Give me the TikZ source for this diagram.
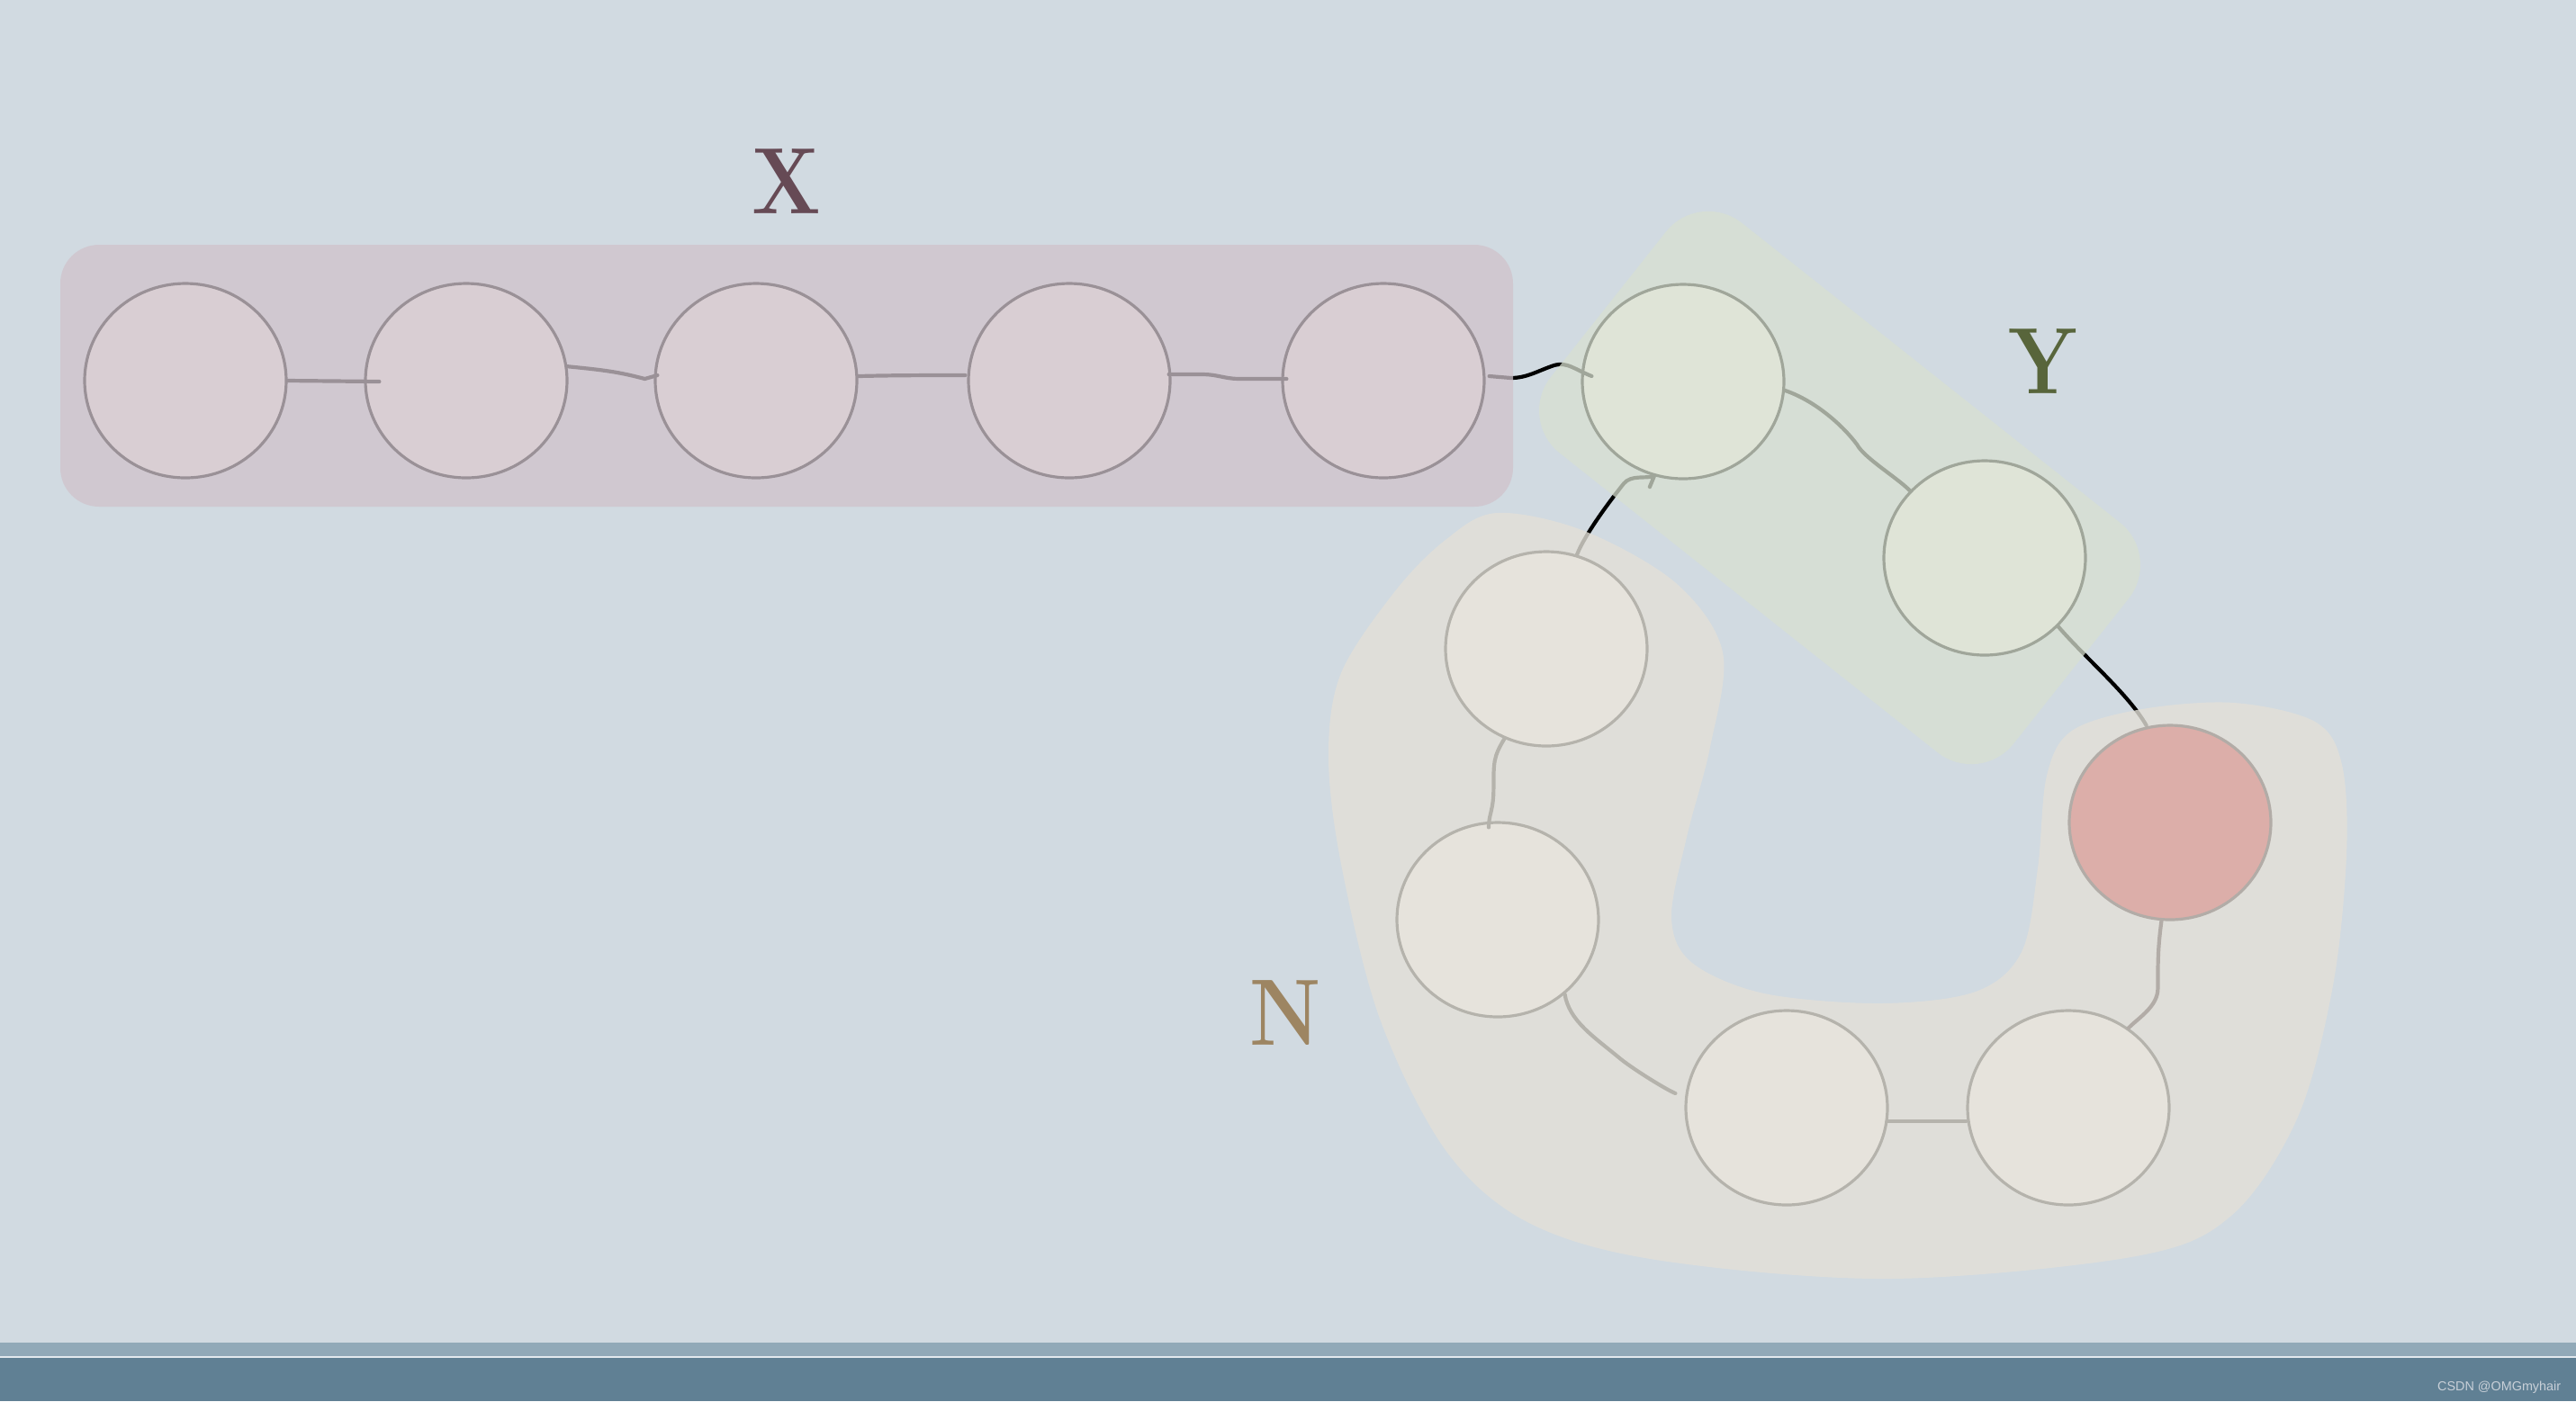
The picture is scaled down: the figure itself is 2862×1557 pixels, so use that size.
\documentclass[tikz,border=0pt]{standalone}
\usepackage{fontspec}
\newfontfamily\wmfont{Liberation Sans}
\usetikzlibrary{shapes.geometric,calc}
\definecolor{bgcol}{RGB}{209,218,225}
\definecolor{bandlight}{RGB}{145,169,184}
\definecolor{banddark}{RGB}{96,128,148}
\definecolor{bandline}{RGB}{226,233,238}
\definecolor{basefill}{RGB}{244,242,236}
\definecolor{xtint}{RGB}{208,195,203}
\definecolor{ytint}{RGB}{216,224,209}
\definecolor{ntint}{RGB}{227,224,216}
\definecolor{redfill}{RGB}{220,174,169}
\definecolor{redline}{RGB}{178,172,167}
\definecolor{xlab}{RGB}{102,74,85}
\definecolor{ylab}{RGB}{88,101,59}
\definecolor{nlab}{RGB}{157,133,98}
\definecolor{wmcol}{RGB}{200,208,216}
\begin{document}
\begin{tikzpicture}[x=0.25pt,y=-0.25pt,
  ell/.style={ellipse, draw=black, line width=0.8pt, fill=basefill,
    minimum width=56pt, minimum height=54pt, inner sep=0pt},
  conn/.style={draw=black, line width=1.05pt, line cap=round, line join=round},
  lab/.style={font=\fontsize{26.2}{30}\selectfont\bfseries, anchor=base, inner sep=0pt, xscale=0.86},
  region/.style={draw=none}]
\useasboundingbox (0,0) rectangle (2862,1557);
% background and bottom band
\fill[bgcol] (0,0) rectangle (2862,1557);
\fill[bandlight] (0,1492) rectangle (2862,1507);
\fill[bandline] (0,1507) rectangle (2862,1508.5);
\fill[banddark] (0,1508.5) rectangle (2862,1557);
\node[font=\wmfont\fontsize{3.6}{4}\selectfont, text=wmcol, anchor=base east, inner sep=0pt]
  (wm) at (2846,1545) {CSDN @OMGmyhair};

% nodes
\node[ell] (x1) at (206,423) {};
\node[ell] (x2) at (518,423) {};
\node[ell] (x3) at (840,423) {};
\node[ell] (x4) at (1188,423) {};
\node[ell] (x5) at (1537,423) {};
\node[ell] (y1) at (1870,424) {};
\node[ell] (y2) at (2205,620) {};
\node[ell] (n1) at (1718,721) {};
\node[ell] (n2) at (1664,1022) {};
\node[ell] (n3) at (1985,1231) {};
\node[ell] (n4) at (2298,1231) {};

% connectors
\draw[conn] (x1.east) -- ($(x2.west)+(17,1)$);
\draw[conn] (x2.8) .. controls +(40,4) and +(-30,-8) .. ($(x3.west)+(-10,-2)$) -- ++(14,-4);
\draw[conn] ($(x3.east)+(0,-5)$) .. controls +(40,-1) and +(-40,0) .. ($(x4.west)+(-2,-6)$);
\draw[conn] ($(x4.east)+(-3,-7)$) -- ++(38,0) .. controls +(15,0) and +(-15,0) .. ++(40,5) -- ($(x5.west)+(6,-2)$);
\draw[conn] ($(x5.east)+(4,-5)$) -- ++(24,2) .. controls +(18,0) and +(-18,6) .. ++(48,-14)
  .. controls +(15,-4) and +(-20,-8) .. ($(y1.west)+(12,-6)$);
\draw[conn] (y1.-5) .. controls +(35,12) and +(-15,-20) .. ++(80,60)
  .. controls +(8,15) and +(-15,-15) .. (y2.138);
\draw[conn] (n1.72) .. controls +(10,-25) and +(-12,15) .. ++(52,-79)
  .. controls +(8,-10) and +(-10,3) .. (y1.-107) -- ++(-5,12);
\draw[conn] (n1.-115) .. controls +(-12,20) and +(0,-30) .. ++(-12,55)
  .. controls +(0,25) and +(0,-15) .. ($(n2.north)+(-10,7)$);
\draw[conn] (n2.-48) .. controls +(5,30) and +(-30,-25) .. ++(62,72)
  .. controls +(15,12) and +(-10,-4) .. ($(n3.west)+(-10,-16)$);
\draw[conn] ($(n3.east)+(-2,15)$) -- ($(n4.west)+(0,15)$);
\draw[conn] (y2.-43) .. controls +(30,35) and +(-20,-35) .. ($(y2.-43)+(98,110)$);

% translucent regions
\fill[xtint, fill opacity=0.745, rounded corners=10.75pt] (67,272) rectangle (1681,563);
\begin{scope}[shift={(2044,542)}, rotate=-38.4]
  \fill[ytint, fill opacity=0.74, rounded corners=15pt] (-328,-163) rectangle (328,163);
\end{scope}
\fill[ntint, fill opacity=0.8] plot[smooth cycle, tension=0.55] coordinates {
  (1663,570) (1760,590) (1862,648) (1914,725) (1900,830) (1874,930) (1857,1020)
  (1880,1070) (1960,1104) (2090,1115) (2195,1102) (2246,1058) (2264,965)
  (2274,862) (2302,812) (2380,788) (2482,781) (2572,802) (2602,850) (2607,950)
  (2592,1095) (2553,1241) (2480,1350) (2373,1396) (2099,1421) (1840,1400)
  (1697,1358) (1606,1278) (1533,1132) (1490,960) (1476,840) (1490,748)
  (1550,657) (1606,600)};

% red node on top
\node[ell, fill=redfill, draw=redline] (red) at (2411,914) {};
\draw[conn, draw=redline] (red.-95) .. controls +(-4,30) and +(0,-30) .. ++(-4,75)
  .. controls +(0,20) and +(12,-12) .. (n4.53);

% labels
\node[lab, text=xlab] (lx) at (874,237) {X};
\node[lab, text=ylab] (ly) at (2270,437) {Y};
\node[lab, text=nlab] (ln) at (1428,1161) {N};
\end{tikzpicture}
\end{document}
